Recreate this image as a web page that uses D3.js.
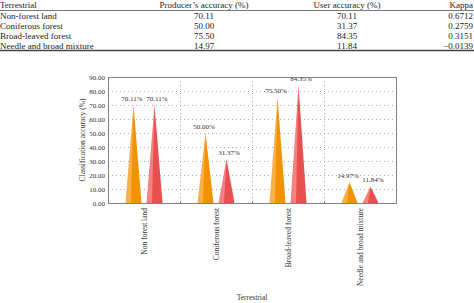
<!DOCTYPE html>
<html>
<head>
<meta charset="utf-8">
<script src="https://cdn.jsdelivr.net/npm/d3@7"></script>
<style>
  body { margin: 0; background: #fff; }
  svg text { font-family: "Liberation Serif", "DejaVu Serif", serif; }
</style>
</head>
<body>
<script>
var categories = ["Non forest land", "Coniferous forest", "Broad-leaved forest", "Needle and broad mixture"],
    tableRows = ["Non-forest land", "Coniferous forest", "Broad-leaved forest", "Needle and broad mixture"],
    producer = [70.11, 50.00, 75.50, 14.97],
    user = [70.11, 31.37, 84.35, 11.84],
    kappa = ["0.6712", "0.2759", "0.3151", "\u22120.0139"],
    yTicks = [0, 10, 20, 30, 40, 50, 60, 70, 80, 90];

var width = 474, height = 303;

var svg = d3.select("body").append("svg")
    .attr("width", width)
    .attr("height", height);

// ---- table on top ----
var table = svg.append("g").attr("font-size", 9).attr("fill", "#222");
table.append("text").attr("x", 0).attr("y", 8).text("Terrestrial");
table.append("text").attr("x", 204).attr("y", 8).attr("text-anchor", "middle").text("Producer\u2019s accuracy (%)");
table.append("text").attr("x", 347).attr("y", 8).attr("text-anchor", "middle").text("User accuracy (%)");
table.append("text").attr("x", 473).attr("y", 8).attr("text-anchor", "end").text("Kappa");
table.append("line").attr("x1", 0).attr("x2", width).attr("y1", 10.5).attr("y2", 10.5)
    .attr("stroke", "#555").attr("stroke-width", 0.8);

tableRows.forEach(function(r, i) {
  var y = 18.5 + i * 10;
  table.append("text").attr("x", 0).attr("y", y).text(r);
  table.append("text").attr("x", 204).attr("y", y).attr("text-anchor", "middle").text(producer[i].toFixed(2));
  table.append("text").attr("x", 347).attr("y", y).attr("text-anchor", "middle").text(user[i].toFixed(2));
  table.append("text").attr("x", 473).attr("y", y).attr("text-anchor", "end").text(kappa[i]);
});
table.append("line").attr("x1", 0).attr("x2", width).attr("y1", 50.5).attr("y2", 50.5)
    .attr("stroke", "#444").attr("stroke-width", 1.6);

// ---- chart ----
var plot = { left: 108, right: 396, top: 77, bottom: 203 };

var x = d3.scaleBand().domain(categories).range([plot.left, plot.right]).padding(0);
var y = d3.scaleLinear().domain([0, 90]).range([plot.bottom, plot.top]);

var g = svg.append("g");

// horizontal dotted grid
g.selectAll("line.hgrid")
  .data(yTicks.slice(1, -1))
  .enter().append("line")
    .attr("x1", plot.left).attr("x2", plot.right)
    .attr("y1", function(d) { return y(d) + 0.5; })
    .attr("y2", function(d) { return y(d) + 0.5; })
    .attr("stroke", "#9a9a9a").attr("stroke-width", 0.8)
    .attr("stroke-dasharray", "1,3");

// vertical separators between categories
g.selectAll("line.vgrid")
  .data(categories.slice(1))
  .enter().append("line")
    .attr("x1", function(d) { return x(d) + 0.5; })
    .attr("x2", function(d) { return x(d) + 0.5; })
    .attr("y1", plot.top).attr("y2", plot.bottom)
    .attr("stroke", "#9a9a9a").attr("stroke-width", 0.8)
    .attr("stroke-dasharray", "1,3");

// y tick labels
g.selectAll("text.ytick")
  .data(yTicks)
  .enter().append("text")
    .attr("x", plot.left - 3)
    .attr("y", function(d) { return y(d) + 2.5; })
    .attr("text-anchor", "end")
    .attr("font-size", 7)
    .attr("fill", "#333")
    .text(function(d) { return d.toFixed(2); });

g.append("text")
  .attr("transform", "translate(85," + ((plot.top + plot.bottom) / 2) + ") rotate(-90)")
  .attr("text-anchor", "middle")
  .attr("font-size", 7.5)
  .attr("fill", "#333")
  .text("Classification accuracy (%)");

// cones
var half = 8, offset = 10.5;
var series = [
  { values: producer, dx: -offset, labelDx: -1.5, light: "#f9b04a", dark: "#f29200" },
  { values: user, dx: offset, labelDx: 2.5, light: "#f58281", dark: "#e8504f" }
];

series.forEach(function(s) {
  var cones = g.append("g").selectAll("g")
    .data(categories)
    .enter().append("g");

  cones.append("path")
    .attr("fill", s.light)
    .attr("d", function(d, i) {
      var cx = x(d) + x.bandwidth() / 2 + s.dx;
      return "M" + (cx - half) + "," + y(0) + "L" + cx + "," + y(s.values[i]) + "L" + (cx + 1) + "," + y(0) + "Z";
    });
  cones.append("path")
    .attr("fill", s.dark)
    .attr("d", function(d, i) {
      var cx = x(d) + x.bandwidth() / 2 + s.dx;
      return "M" + (cx - 2.5) + "," + y(0) + "L" + cx + "," + y(s.values[i]) + "L" + (cx + half) + "," + y(0) + "Z";
    });

  cones.append("text")
    .attr("x", function(d) { return x(d) + x.bandwidth() / 2 + s.dx + s.labelDx; })
    .attr("y", function(d, i) { return y(s.values[i]) - 4; })
    .attr("text-anchor", "middle")
    .attr("font-size", 7)
    .attr("fill", "#333")
    .text(function(d, i) { return s.values[i].toFixed(2) + "%"; });
});

// plot border
g.append("rect")
  .attr("x", plot.left + 0.5).attr("y", plot.top + 0.5)
  .attr("width", plot.right - plot.left).attr("height", plot.bottom - plot.top)
  .attr("fill", "none").attr("stroke", "#808080").attr("stroke-width", 1);

// small ticks on x axis at separators
g.selectAll("line.xtick")
  .data(categories.slice(1))
  .enter().append("line")
    .attr("x1", function(d) { return x(d) + 0.5; })
    .attr("x2", function(d) { return x(d) + 0.5; })
    .attr("y1", plot.bottom - 2).attr("y2", plot.bottom + 0.5)
    .attr("stroke", "#808080");

// category labels
g.selectAll("text.cat")
  .data(categories)
  .enter().append("text")
    .attr("transform", function(d) {
      return "translate(" + (x(d) + x.bandwidth() / 2 + 2.5) + "," + (plot.bottom + 5) + ") rotate(-90)";
    })
    .attr("text-anchor", "end")
    .attr("font-size", 7.5)
    .attr("fill", "#333")
    .text(function(d) { return d; });

g.append("text")
  .attr("x", (plot.left + plot.right) / 2)
  .attr("y", 300)
  .attr("text-anchor", "middle")
  .attr("font-size", 7.5)
  .attr("fill", "#333")
  .text("Terrestrial");
</script>
</body>
</html>
